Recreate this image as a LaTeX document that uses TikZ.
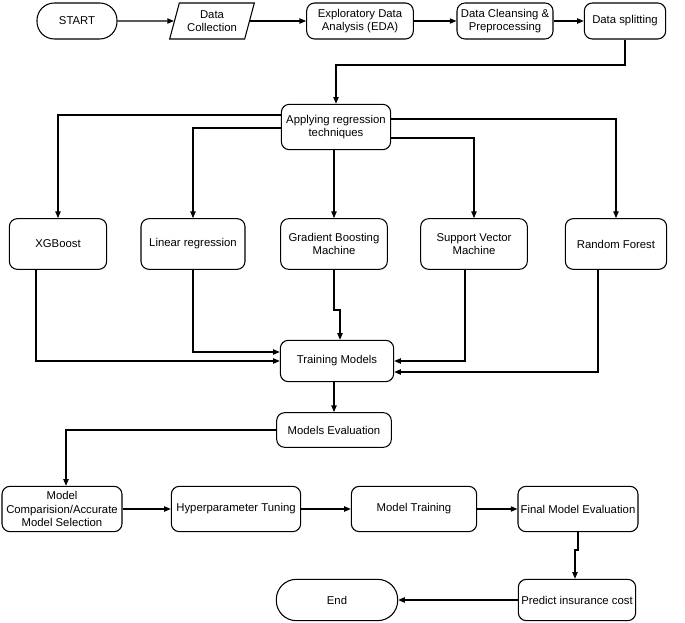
\documentclass[tikz,border=0pt]{standalone}
\usepackage{fontspec}
\setmainfont{Liberation Sans}
\usetikzlibrary{arrows.meta, positioning, shapes.geometric}

\tikzset{
    box/.style={rectangle, rounded corners=6pt, draw, thick, align=center, font=\fontsize{8.5}{10}\selectfont, inner sep=2pt},
    term/.style={box, rounded corners=13pt},
    io/.style={trapezium, trapezium left angle=70, trapezium right angle=110, draw, thick, align=center, font=\fontsize{8.5}{10}\selectfont, inner sep=2pt},
    arr/.style={-{Triangle[length=5pt,width=4pt]}, thick}
}

\begin{document}
\begin{tikzpicture}[x=0.75pt, y=-0.75pt]
    \useasboundingbox (0,0) rectangle (685,623);
    % top row
    \node (start) [term, minimum width=60pt, minimum height=27pt] at (77,21) {START};
    \node (collect) [io, minimum width=62pt, minimum height=27pt, trapezium stretches=true, text width=45pt] at (212,21) {Data\\Collection};
    \node (eda) [box, minimum width=80pt, minimum height=27pt] at (360,21) {Exploratory Data\\Analysis (EDA)};
    \node (clean) [box, minimum width=72pt, minimum height=27pt] at (505,21) {Data Cleansing \&\\Preprocessing};
    \node (split) [box, minimum width=61pt, minimum height=27pt] at (625,21) {Data splitting};
    % techniques
    \node (apply) [box, minimum width=82pt, minimum height=34pt] at (336,127) {Applying regression\\techniques};
    \node (xgb) [box, minimum width=73pt, minimum height=38pt] at (58,244) {XGBoost};
    \node (lin) [box, minimum width=78pt, minimum height=38pt] at (193,244) {Linear regression};
    \node (gbm) [box, minimum width=80pt, minimum height=38pt] at (334,244) {Gradient Boosting\\Machine};
    \node (svm) [box, minimum width=80pt, minimum height=38pt] at (474,244) {Support Vector\\Machine};
    \node (rf) [box, minimum width=76pt, minimum height=38pt] at (616,244) {Random Forest};
    % training
    \node (train) [box, minimum width=85pt, minimum height=31pt] at (337,361) {Training Models};
    \node (eval) [box, minimum width=86pt, minimum height=26pt] at (334,430) {Models Evaluation};
    % bottom rows
    \node (comp) [box, minimum width=90pt, minimum height=34pt] at (62,509) {Model\\Comparision/Accurate\\Model Selection};
    \node (hyper) [box, minimum width=97pt, minimum height=34pt] at (236,509) {Hyperparameter Tuning};
    \node (mtrain) [box, minimum width=94pt, minimum height=34pt] at (414,509) {Model Training};
    \node (final) [box, minimum width=90pt, minimum height=34pt] at (578,509) {Final Model Evaluation};
    \node (predict) [box, minimum width=88pt, minimum height=31pt] at (577,600) {Predict insurance cost};
    \node (end) [term, minimum width=91pt, minimum height=31pt, rounded corners=15pt] at (337,600) {End};

    \draw[arr] (start) -- (collect);
    \draw[arr] (collect) -- (eda);
    \draw[arr] (eda) -- (clean);
    \draw[arr] (clean) -- (split);
    \draw[arr] (split.south) |- (336,65) -- (apply.north);

    \draw[arr] (apply.west |- 0,115) -| (xgb.north);
    \draw[arr] (apply.west |- 0,128) -| (lin.north);
    \draw[arr] (apply.south -| gbm.north) -- (gbm.north);
    \draw[arr] (apply.east |- 0,138) -| (svm.north);
    \draw[arr] (apply.east |- 0,119) -| (rf.north);

    \draw[arr] (xgb.south -| 36,0) |- (train.west |- 0,361);
    \draw[arr] (lin.south -| 193,0) |- (train.west |- 0,352);
    \draw[arr] (gbm.south -| 334,0) -- (334,310) -| (340,0 |- train.north);
    \draw[arr] (svm.south -| 465,0) |- (train.east |- 0,361);
    \draw[arr] (rf.south -| 598,0) |- (train.east |- 0,372);

    \draw[arr] (train.south -| 334,0) -- (eval.north);
    \draw[arr] (eval.west) -| (comp.north -| 66,0);
    \draw[arr] (comp) -- (hyper);
    \draw[arr] (hyper) -- (mtrain);
    \draw[arr] (mtrain) -- (final);
    \draw[arr] (final.south) |- (575,550) -- (predict.north -| 575,0);
    \draw[arr] (predict) -- (end);
\end{tikzpicture}
\end{document}
